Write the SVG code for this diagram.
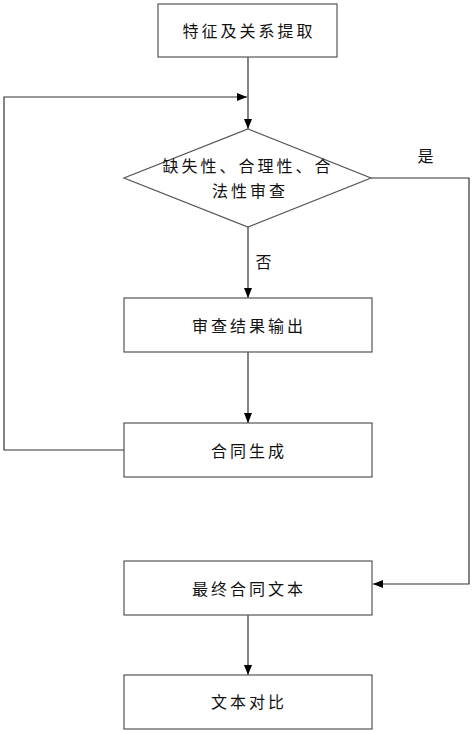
<svg xmlns="http://www.w3.org/2000/svg" width="474" height="733" viewBox="0 0 474 733">
<style>
.box{fill:#fff;stroke:#555;stroke-width:1.2}
.t{font-family:"Noto Sans CJK SC","Noto Sans",sans-serif;font-size:16px;letter-spacing:3px;fill:#111;text-anchor:middle;dominant-baseline:central}
.c{fill:none;stroke:#333;stroke-width:1.2}
</style>
<defs>
<marker id="a" markerWidth="10" markerHeight="8" refX="10" refY="4" orient="auto" markerUnits="userSpaceOnUse">
<path d="M0,0 L10,4 L0,8 Z" fill="#000"/>
</marker>
</defs>
<rect width="474" height="733" fill="#fff"/>
<g id="connectors">
<line class="c" x1="248" y1="57" x2="248" y2="129" marker-end="url(#a)"/>
<polyline class="c" points="124,450 4,450 4,97 247,97" marker-end="url(#a)"/>
<line class="c" x1="248" y1="227" x2="248" y2="298" marker-end="url(#a)"/>
<line class="c" x1="248" y1="352" x2="248" y2="423" marker-end="url(#a)"/>
<polyline class="c" points="371,178 469,178 469,584 373,584" marker-end="url(#a)"/>
<line class="c" x1="248" y1="615" x2="248" y2="675" marker-end="url(#a)"/>
<text class="t" x="427" y="155">是</text>
<text class="t" x="265" y="261">否</text>
</g>
<g id="n1">
<rect class="box" x="158" y="4" width="179" height="53"/>
<text class="t" x="249" y="30">特征及关系提取</text>
</g>
<g id="n2">
<polygon class="box" points="248,129 371,178 248,227 124,178"/>
<text class="t" x="248" y="165">缺失性、合理性、合</text>
<text class="t" x="250" y="190">法性审查</text>
</g>
<g id="n3">
<rect class="box" x="124" y="298" width="248" height="54"/>
<text class="t" x="249" y="325">审查结果输出</text>
</g>
<g id="n4">
<rect class="box" x="124" y="423" width="248" height="54"/>
<text class="t" x="249" y="450">合同生成</text>
</g>
<g id="n5">
<rect class="box" x="124" y="561" width="248" height="54"/>
<text class="t" x="249" y="588">最终合同文本</text>
</g>
<g id="n6">
<rect class="box" x="124" y="675" width="248" height="54"/>
<text class="t" x="249" y="701">文本对比</text>
</g>
</svg>
